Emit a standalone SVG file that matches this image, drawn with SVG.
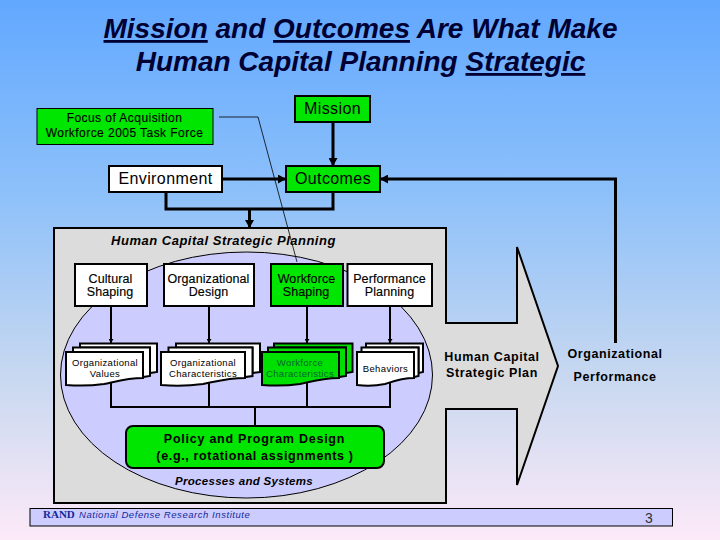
<svg xmlns="http://www.w3.org/2000/svg" width="720" height="540" viewBox="0 0 720 540">
<defs>
<linearGradient id="bg" x1="0" y1="0" x2="0" y2="1"><stop offset="0" stop-color="#62a8ff"/><stop offset="0.35" stop-color="#8cc0fa"/><stop offset="0.7" stop-color="#c8d8f0"/><stop offset="1" stop-color="#fdeaf8"/></linearGradient>
<marker id="ah" markerUnits="userSpaceOnUse" markerWidth="9" markerHeight="9" refX="8" refY="4.5" orient="auto"><path d="M0 0L8 4.5L0 9Z" fill="#000"/></marker>
<marker id="as" markerUnits="userSpaceOnUse" markerWidth="5" markerHeight="5" refX="4" refY="2.5" orient="auto"><path d="M0 0L4 2.5L0 5Z" fill="#000"/></marker>
</defs>
<style>
text{font-family:"Liberation Sans",Arial,sans-serif;fill:#000;text-anchor:middle}
.title{font-size:28px;font-weight:bold;font-style:italic;fill:#000033}
.box{fill:#fff;stroke:#000;stroke-width:2}
.g{fill:#00e600;stroke:#000;stroke-width:2}
.t14{font-size:16px;letter-spacing:.4px}
.t12{font-size:12.5px;letter-spacing:.1px;stroke:#000;stroke-width:.15}
.t10{font-size:9.5px;letter-spacing:.35px}
.b{font-weight:bold;font-size:12.5px;letter-spacing:.6px}
.c3{fill:none;stroke:#000;stroke-width:3}
.c2{fill:none;stroke:#000;stroke-width:2}
.d{fill:#fff;stroke:#000;stroke-width:2}
.dg{fill:#00e000;stroke:#000;stroke-width:2}
</style>
<rect width="720" height="540" fill="url(#bg)"/>
<text x="360.500" y="38" class="title"><tspan text-decoration="underline">Mission</tspan> and <tspan text-decoration="underline">Outcomes</tspan> Are What Make</text>
<text x="360.500" y="71" class="title"><tspan>Human Capital Planning </tspan><tspan text-decoration="underline">Strategic</tspan></text>
<g id="footer"><rect x="30" y="508.500" width="642.500" height="17.500" fill="#ccccff" stroke="#000" stroke-width="1"/>
<text x="43" y="518" font-size="11" font-weight="bold" style="font-family:'Liberation Serif',serif;text-anchor:start;fill:#102a9c">RAND</text>
<text x="79" y="518" font-size="9.500" font-style="italic" style="text-anchor:start;fill:#102a9c;letter-spacing:.55px">National Defense Research Institute</text>
<text x="649" y="523" font-size="14" style="fill:#333">3</text></g>
<g id="strategic-plan"><path d="M54 228H446V323H517V247L558 366L517 485V409H446V503H54Z" fill="#dcdcdc" stroke="#000" stroke-width="2"/>
<text x="223.500" y="245" font-size="13" font-weight="bold" font-style="italic" letter-spacing=".5">Human Capital Strategic Planning</text>
<ellipse cx="246.500" cy="375" rx="186" ry="123" fill="#ccccff" stroke="#000" stroke-width="1"/>
<text x="244" y="485" font-size="11.500" font-style="italic" font-weight="bold" letter-spacing=".3">Processes and Systems</text>
<text x="492" y="361" class="b">Human Capital</text><text x="492" y="377" class="b">Strategic Plan</text></g>
<g id="connectors">
<path class="c3" d="M333 122V166" marker-end="url(#ah)"/>
<path class="c3" d="M222 179H286" marker-end="url(#ah)"/>
<path class="c3" d="M615.500 343V179H380" marker-end="url(#ah)"/>
<path class="c3" d="M166 192V209H333V192"/>
<path class="c3" d="M249.500 209V228" marker-end="url(#ah)"/>
<path d="M219 117H258L297 262" fill="none" stroke="#000" stroke-width=".8"/>
<path class="c2" d="M111 306V343" marker-end="url(#as)"/><path class="c2" d="M209 306V343" marker-end="url(#as)"/><path class="c2" d="M307 306V343" marker-end="url(#as)"/><path class="c2" d="M390 306V343" marker-end="url(#as)"/>
<path class="c2" d="M111 382V407H390V382M209 382V407M307 382V407M255 407V426" />
</g>
<g id="focus"><rect x="37" y="108.500" width="176" height="36" fill="#00e600" stroke="#000"/><text x="124.500" y="122" class="t12" style="font-size:12px;letter-spacing:.45px">Focus of Acquisition</text><text x="124.500" y="137" class="t12" style="font-size:12px;letter-spacing:.45px">Workforce 2005 Task Force</text></g>
<g id="mission"><rect class="g" x="295" y="96" width="75" height="26"/><text x="332.500" y="114" class="t14">Mission</text></g>
<g id="environment"><rect class="box" x="109" y="166" width="113" height="26"/><text x="165.500" y="184" class="t14">Environment</text></g>
<g id="outcomes"><rect class="g" x="286" y="166" width="94" height="26"/><text x="333" y="184" class="t14">Outcomes</text></g>
<g id="cultural"><rect class="box" x="75" y="264" width="72" height="42"/><text x="110.500" y="283" class="t12">Cultural</text><text x="110" y="296" class="t12">Shaping</text></g>
<g id="org-design"><rect class="box" x="164" y="264" width="90" height="42"/><text x="208.500" y="283" class="t12">Organizational</text><text x="208.500" y="296" class="t12">Design</text></g>
<g id="workforce"><rect class="g" x="271" y="264" width="72" height="42"/><text x="306.500" y="283" class="t12">Workforce</text><text x="306" y="296" class="t12">Shaping</text></g>
<g id="performance"><rect class="box" x="347.500" y="264" width="84.500" height="42"/><text x="389.500" y="283" class="t12">Performance</text><text x="389.500" y="296" class="t12">Planning</text></g>
<g id="org-values">
<path class="d" d="M80 343.500H157V372L150 373V347.500H80Z"/><path class="d" d="M73 347.500H150V376L143 377V352H73Z"/>
<path class="d" d="M66 352H143V378C128 378 118 381 104 384C90 386 78 386 66 385Z"/>
<text x="105" y="366" class="t10">Organizational</text><text x="105" y="376.500" class="t10">Values</text></g>
<g id="org-char">
<path class="d" d="M176 343.500H260V372L252.500 373V347.500H176Z"/><path class="d" d="M168.500 347.500H252.500V376L245 377V352H168.500Z"/>
<path class="d" d="M161 352H245V378C228 378 218 381 203 384C188 386 174 386 161 385Z"/>
<text x="203" y="366" class="t10">Organizational</text><text x="203" y="376.500" class="t10">Characteristics</text></g>
<g id="workforce-char">
<path class="dg" d="M274 343.500H352.500V372L346 373V347.500H274Z"/><path class="dg" d="M268 347.500H346V376L339 377V352H268Z"/>
<path class="dg" d="M262 352H339V378C323 378 313 381 300 384C286 386 274 386 262 385Z"/>
<text x="300" y="366" class="t10" style="fill:#063">Workforce</text><text x="300" y="376.500" class="t10" style="fill:#063">Characteristics</text></g>
<g id="behaviors">
<path class="d" d="M366 343.500H423V372L418.500 373V347.500H366Z"/><path class="d" d="M361.500 347.500H418.500V376L414 377V352H361.500Z"/>
<path class="d" d="M357 352H414V378C402 378 394 381 385 384C375 386 366 386 357 385Z"/>
<text x="385.500" y="372" class="t10">Behaviors</text></g>
<g id="policy"><rect class="g" x="126" y="426" width="258" height="42" rx="7"/><text x="254.500" y="443" class="b" style="letter-spacing:.75px">Policy and Program Design</text><text x="255" y="460" class="b" style="letter-spacing:.65px">(e.g., rotational assignments )</text></g>
<g id="org-performance"><text x="615" y="358" class="b">Organizational</text><text x="615" y="381" class="b">Performance</text></g>
</svg>
